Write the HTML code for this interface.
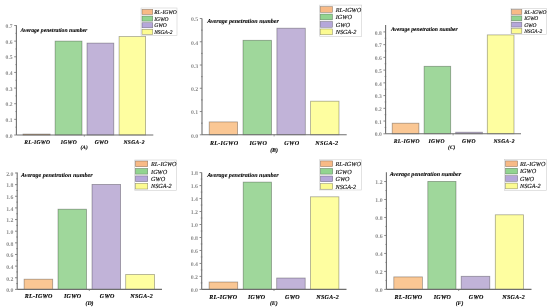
<!DOCTYPE html>
<html><head><meta charset="utf-8"><title>Average penetration number</title>
<style>
html,body{margin:0;padding:0;background:#fff;}
body{width:550px;height:308px;overflow:hidden;}
svg{display:block;font-family:"Liberation Serif", "Times New Roman", serif;text-rendering:geometricPrecision;}
.t{filter:blur(0.15px);}
.g{filter:blur(0.3px);}
</style></head><body>
<svg width="550" height="308" viewBox="0 0 550 308">
<rect width="550" height="308" fill="#fff"/>
<g class="g" id="pA"><rect x="23.00" y="134.10" width="27.10" height="0.90" fill="#fac794" stroke="#000" stroke-opacity="0.45" stroke-width="0.7"/>
<rect x="55.10" y="41.10" width="26.90" height="93.90" fill="#9fd79b" stroke="#000" stroke-opacity="0.34" stroke-width="0.8"/>
<rect x="87.00" y="43.10" width="26.80" height="91.90" fill="#c1b3d8" stroke="#000" stroke-opacity="0.34" stroke-width="0.8"/>
<rect x="119.10" y="36.60" width="26.50" height="98.40" fill="#fefea0" stroke="#000" stroke-opacity="0.34" stroke-width="0.8"/>
<line x1="16.40" y1="25.30" x2="16.40" y2="135.00" stroke="#6e6e6e" stroke-width="1.1"/>
<line x1="16.40" y1="135.00" x2="153.30" y2="135.00" stroke="#6e6e6e" stroke-width="1.1"/>
<line x1="14.20" y1="135.00" x2="16.40" y2="135.00" stroke="#6e6e6e" stroke-width="0.8"/>
<text class="t" x="12.60" y="137.69" text-anchor="end" font-size="5.6" fill="#8a8a8a" font-weight="bold">0.0</text>
<line x1="15.40" y1="127.18" x2="17.00" y2="127.18" stroke="#6e6e6e" stroke-width="0.7"/>
<line x1="14.20" y1="119.36" x2="16.40" y2="119.36" stroke="#6e6e6e" stroke-width="0.8"/>
<text class="t" x="12.60" y="122.05" text-anchor="end" font-size="5.6" fill="#8a8a8a" font-weight="bold">0.1</text>
<line x1="15.40" y1="111.54" x2="17.00" y2="111.54" stroke="#6e6e6e" stroke-width="0.7"/>
<line x1="14.20" y1="103.71" x2="16.40" y2="103.71" stroke="#6e6e6e" stroke-width="0.8"/>
<text class="t" x="12.60" y="106.40" text-anchor="end" font-size="5.6" fill="#8a8a8a" font-weight="bold">0.2</text>
<line x1="15.40" y1="95.89" x2="17.00" y2="95.89" stroke="#6e6e6e" stroke-width="0.7"/>
<line x1="14.20" y1="88.07" x2="16.40" y2="88.07" stroke="#6e6e6e" stroke-width="0.8"/>
<text class="t" x="12.60" y="90.76" text-anchor="end" font-size="5.6" fill="#8a8a8a" font-weight="bold">0.3</text>
<line x1="15.40" y1="80.25" x2="17.00" y2="80.25" stroke="#6e6e6e" stroke-width="0.7"/>
<line x1="14.20" y1="72.43" x2="16.40" y2="72.43" stroke="#6e6e6e" stroke-width="0.8"/>
<text class="t" x="12.60" y="75.12" text-anchor="end" font-size="5.6" fill="#8a8a8a" font-weight="bold">0.4</text>
<line x1="15.40" y1="64.61" x2="17.00" y2="64.61" stroke="#6e6e6e" stroke-width="0.7"/>
<line x1="14.20" y1="56.79" x2="16.40" y2="56.79" stroke="#6e6e6e" stroke-width="0.8"/>
<text class="t" x="12.60" y="59.47" text-anchor="end" font-size="5.6" fill="#8a8a8a" font-weight="bold">0.5</text>
<line x1="15.40" y1="48.96" x2="17.00" y2="48.96" stroke="#6e6e6e" stroke-width="0.7"/>
<line x1="14.20" y1="41.14" x2="16.40" y2="41.14" stroke="#6e6e6e" stroke-width="0.8"/>
<text class="t" x="12.60" y="43.83" text-anchor="end" font-size="5.6" fill="#8a8a8a" font-weight="bold">0.6</text>
<line x1="15.40" y1="33.32" x2="17.00" y2="33.32" stroke="#6e6e6e" stroke-width="0.7"/>
<line x1="14.20" y1="25.50" x2="16.40" y2="25.50" stroke="#6e6e6e" stroke-width="0.8"/>
<text class="t" x="12.60" y="28.19" text-anchor="end" font-size="5.6" fill="#8a8a8a" font-weight="bold">0.7</text>
<line x1="84.30" y1="135.00" x2="84.30" y2="136.60" stroke="#6e6e6e" stroke-width="0.7"/>
<text class="t" x="37.30" y="144.18" text-anchor="middle" letter-spacing="0.3" font-size="5.56" font-weight="bold" font-style="italic" fill="#000" stroke="#000" stroke-width="0.12">RL-IGWO</text>
<text class="t" x="68.90" y="144.18" text-anchor="middle" letter-spacing="0.3" font-size="5.56" font-weight="bold" font-style="italic" fill="#000" stroke="#000" stroke-width="0.12">IGWO</text>
<text class="t" x="101.55" y="144.18" text-anchor="middle" letter-spacing="0.3" font-size="5.56" font-weight="bold" font-style="italic" fill="#000" stroke="#000" stroke-width="0.12">GWO</text>
<text class="t" x="134.10" y="144.18" text-anchor="middle" letter-spacing="0.3" font-size="5.56" font-weight="bold" font-style="italic" fill="#000" stroke="#000" stroke-width="0.12">NSGA-2</text>
<text class="t" x="84.10" y="148.89" text-anchor="middle" font-size="5.4" font-weight="bold" font-style="italic" fill="#000" stroke="#000" stroke-width="0.12">(A)</text>
<text class="t" x="20.60" y="31.58" font-size="5.684" font-weight="bold" font-style="italic" fill="#000" stroke="#000" stroke-width="0.1">Average penetration number</text>
<rect x="141.00" y="8.00" width="36.00" height="27.30" fill="#fff" stroke="#cfcfcf" stroke-width="0.6"/>
<rect x="142.00" y="9.40" width="10.70" height="5.10" fill="#f8ba86" stroke="#000" stroke-opacity="0.4" stroke-width="0.6"/>
<text class="t" x="154.20" y="13.96" font-size="5.5" font-style="italic" fill="#111" stroke="#111" stroke-width="0.14">RL-IGWO</text>
<rect x="142.00" y="16.05" width="10.70" height="5.10" fill="#92d490" stroke="#000" stroke-opacity="0.4" stroke-width="0.6"/>
<text class="t" x="154.20" y="20.62" font-size="5.5" font-style="italic" fill="#111" stroke="#111" stroke-width="0.14">IGWO</text>
<rect x="142.00" y="22.70" width="10.70" height="5.10" fill="#b5a7da" stroke="#000" stroke-opacity="0.4" stroke-width="0.6"/>
<text class="t" x="154.20" y="27.27" font-size="5.5" font-style="italic" fill="#111" stroke="#111" stroke-width="0.14">GWO</text>
<rect x="142.00" y="29.35" width="10.70" height="5.10" fill="#fcfb92" stroke="#000" stroke-opacity="0.4" stroke-width="0.6"/>
<text class="t" x="154.20" y="33.91" font-size="5.5" font-style="italic" fill="#111" stroke="#111" stroke-width="0.14">NSGA-2</text></g>
<g class="g" id="pB"><rect x="209.20" y="121.90" width="28.40" height="12.90" fill="#fac794" stroke="#000" stroke-opacity="0.34" stroke-width="0.8"/>
<rect x="243.00" y="40.30" width="28.50" height="94.50" fill="#9fd79b" stroke="#000" stroke-opacity="0.34" stroke-width="0.8"/>
<rect x="276.90" y="28.20" width="28.40" height="106.60" fill="#c1b3d8" stroke="#000" stroke-opacity="0.34" stroke-width="0.8"/>
<rect x="310.60" y="101.20" width="28.40" height="33.60" fill="#fefea0" stroke="#000" stroke-opacity="0.34" stroke-width="0.8"/>
<line x1="202.00" y1="18.50" x2="202.00" y2="134.80" stroke="#6e6e6e" stroke-width="1.1"/>
<line x1="202.00" y1="134.80" x2="346.70" y2="134.80" stroke="#6e6e6e" stroke-width="1.1"/>
<line x1="199.80" y1="134.80" x2="202.00" y2="134.80" stroke="#6e6e6e" stroke-width="0.8"/>
<text class="t" x="198.20" y="137.58" text-anchor="end" font-size="5.8" fill="#8a8a8a" font-weight="bold">0.0</text>
<line x1="201.00" y1="123.17" x2="202.60" y2="123.17" stroke="#6e6e6e" stroke-width="0.7"/>
<line x1="199.80" y1="111.54" x2="202.00" y2="111.54" stroke="#6e6e6e" stroke-width="0.8"/>
<text class="t" x="198.20" y="114.32" text-anchor="end" font-size="5.8" fill="#8a8a8a" font-weight="bold">0.1</text>
<line x1="201.00" y1="99.91" x2="202.60" y2="99.91" stroke="#6e6e6e" stroke-width="0.7"/>
<line x1="199.80" y1="88.28" x2="202.00" y2="88.28" stroke="#6e6e6e" stroke-width="0.8"/>
<text class="t" x="198.20" y="91.06" text-anchor="end" font-size="5.8" fill="#8a8a8a" font-weight="bold">0.2</text>
<line x1="201.00" y1="76.65" x2="202.60" y2="76.65" stroke="#6e6e6e" stroke-width="0.7"/>
<line x1="199.80" y1="65.02" x2="202.00" y2="65.02" stroke="#6e6e6e" stroke-width="0.8"/>
<text class="t" x="198.20" y="67.80" text-anchor="end" font-size="5.8" fill="#8a8a8a" font-weight="bold">0.3</text>
<line x1="201.00" y1="53.39" x2="202.60" y2="53.39" stroke="#6e6e6e" stroke-width="0.7"/>
<line x1="199.80" y1="41.76" x2="202.00" y2="41.76" stroke="#6e6e6e" stroke-width="0.8"/>
<text class="t" x="198.20" y="44.54" text-anchor="end" font-size="5.8" fill="#8a8a8a" font-weight="bold">0.4</text>
<line x1="201.00" y1="30.13" x2="202.60" y2="30.13" stroke="#6e6e6e" stroke-width="0.7"/>
<line x1="199.80" y1="18.50" x2="202.00" y2="18.50" stroke="#6e6e6e" stroke-width="0.8"/>
<text class="t" x="198.20" y="21.28" text-anchor="end" font-size="5.8" fill="#8a8a8a" font-weight="bold">0.5</text>
<line x1="274.10" y1="134.80" x2="274.10" y2="136.40" stroke="#6e6e6e" stroke-width="0.7"/>
<text class="t" x="224.15" y="144.85" text-anchor="middle" letter-spacing="0.3" font-size="6.08" font-weight="bold" font-style="italic" fill="#000" stroke="#000" stroke-width="0.12">RL-IGWO</text>
<text class="t" x="258.30" y="144.85" text-anchor="middle" letter-spacing="0.3" font-size="6.08" font-weight="bold" font-style="italic" fill="#000" stroke="#000" stroke-width="0.12">IGWO</text>
<text class="t" x="291.85" y="144.85" text-anchor="middle" letter-spacing="0.3" font-size="6.08" font-weight="bold" font-style="italic" fill="#000" stroke="#000" stroke-width="0.12">GWO</text>
<text class="t" x="326.90" y="144.85" text-anchor="middle" letter-spacing="0.3" font-size="6.08" font-weight="bold" font-style="italic" fill="#000" stroke="#000" stroke-width="0.12">NSGA-2</text>
<text class="t" x="274.10" y="152.06" text-anchor="middle" font-size="5.9" font-weight="bold" font-style="italic" fill="#000" stroke="#000" stroke-width="0.12">(B)</text>
<text class="t" x="207.30" y="23.20" font-size="6.090" font-weight="bold" font-style="italic" fill="#000" stroke="#000" stroke-width="0.1">Average penetration number</text>
<rect x="319.70" y="5.10" width="42.00" height="31.20" fill="#fff" stroke="#cfcfcf" stroke-width="0.6"/>
<rect x="320.20" y="6.60" width="12.30" height="5.80" fill="#f8ba86" stroke="#000" stroke-opacity="0.4" stroke-width="0.6"/>
<text class="t" x="335.80" y="11.75" font-size="6.2" font-style="italic" fill="#111" stroke="#111" stroke-width="0.14">RL-IGWO</text>
<rect x="320.20" y="14.05" width="12.30" height="5.80" fill="#92d490" stroke="#000" stroke-opacity="0.4" stroke-width="0.6"/>
<text class="t" x="335.80" y="19.20" font-size="6.2" font-style="italic" fill="#111" stroke="#111" stroke-width="0.14">IGWO</text>
<rect x="320.20" y="21.50" width="12.30" height="5.80" fill="#b5a7da" stroke="#000" stroke-opacity="0.4" stroke-width="0.6"/>
<text class="t" x="335.80" y="26.65" font-size="6.2" font-style="italic" fill="#111" stroke="#111" stroke-width="0.14">GWO</text>
<rect x="320.20" y="28.95" width="12.30" height="5.80" fill="#fcfb92" stroke="#000" stroke-opacity="0.4" stroke-width="0.6"/>
<text class="t" x="335.80" y="34.10" font-size="6.2" font-style="italic" fill="#111" stroke="#111" stroke-width="0.14">NSGA-2</text></g>
<g class="g" id="pC"><rect x="392.20" y="123.20" width="26.70" height="10.60" fill="#fac794" stroke="#000" stroke-opacity="0.34" stroke-width="0.8"/>
<rect x="424.10" y="66.30" width="26.60" height="67.50" fill="#9fd79b" stroke="#000" stroke-opacity="0.34" stroke-width="0.8"/>
<rect x="455.70" y="132.20" width="26.70" height="1.60" fill="#c1b3d8" stroke="#000" stroke-opacity="0.34" stroke-width="0.8"/>
<rect x="487.30" y="34.90" width="26.70" height="98.90" fill="#fefea0" stroke="#000" stroke-opacity="0.34" stroke-width="0.8"/>
<line x1="385.60" y1="25.00" x2="385.60" y2="133.80" stroke="#6e6e6e" stroke-width="1.1"/>
<line x1="385.60" y1="133.80" x2="521.00" y2="133.80" stroke="#6e6e6e" stroke-width="1.1"/>
<line x1="383.40" y1="133.80" x2="385.60" y2="133.80" stroke="#6e6e6e" stroke-width="0.8"/>
<text class="t" x="381.80" y="136.49" text-anchor="end" font-size="5.6" fill="#8a8a8a" font-weight="bold">0.0</text>
<line x1="384.60" y1="127.43" x2="386.20" y2="127.43" stroke="#6e6e6e" stroke-width="0.7"/>
<line x1="383.40" y1="121.06" x2="385.60" y2="121.06" stroke="#6e6e6e" stroke-width="0.8"/>
<text class="t" x="381.80" y="123.75" text-anchor="end" font-size="5.6" fill="#8a8a8a" font-weight="bold">0.1</text>
<line x1="384.60" y1="114.69" x2="386.20" y2="114.69" stroke="#6e6e6e" stroke-width="0.7"/>
<line x1="383.40" y1="108.33" x2="385.60" y2="108.33" stroke="#6e6e6e" stroke-width="0.8"/>
<text class="t" x="381.80" y="111.01" text-anchor="end" font-size="5.6" fill="#8a8a8a" font-weight="bold">0.2</text>
<line x1="384.60" y1="101.96" x2="386.20" y2="101.96" stroke="#6e6e6e" stroke-width="0.7"/>
<line x1="383.40" y1="95.59" x2="385.60" y2="95.59" stroke="#6e6e6e" stroke-width="0.8"/>
<text class="t" x="381.80" y="98.28" text-anchor="end" font-size="5.6" fill="#8a8a8a" font-weight="bold">0.3</text>
<line x1="384.60" y1="89.22" x2="386.20" y2="89.22" stroke="#6e6e6e" stroke-width="0.7"/>
<line x1="383.40" y1="82.85" x2="385.60" y2="82.85" stroke="#6e6e6e" stroke-width="0.8"/>
<text class="t" x="381.80" y="85.54" text-anchor="end" font-size="5.6" fill="#8a8a8a" font-weight="bold">0.4</text>
<line x1="384.60" y1="76.48" x2="386.20" y2="76.48" stroke="#6e6e6e" stroke-width="0.7"/>
<line x1="383.40" y1="70.11" x2="385.60" y2="70.11" stroke="#6e6e6e" stroke-width="0.8"/>
<text class="t" x="381.80" y="72.80" text-anchor="end" font-size="5.6" fill="#8a8a8a" font-weight="bold">0.5</text>
<line x1="384.60" y1="63.74" x2="386.20" y2="63.74" stroke="#6e6e6e" stroke-width="0.7"/>
<line x1="383.40" y1="57.38" x2="385.60" y2="57.38" stroke="#6e6e6e" stroke-width="0.8"/>
<text class="t" x="381.80" y="60.06" text-anchor="end" font-size="5.6" fill="#8a8a8a" font-weight="bold">0.6</text>
<line x1="384.60" y1="51.01" x2="386.20" y2="51.01" stroke="#6e6e6e" stroke-width="0.7"/>
<line x1="383.40" y1="44.64" x2="385.60" y2="44.64" stroke="#6e6e6e" stroke-width="0.8"/>
<text class="t" x="381.80" y="47.33" text-anchor="end" font-size="5.6" fill="#8a8a8a" font-weight="bold">0.7</text>
<line x1="384.60" y1="38.27" x2="386.20" y2="38.27" stroke="#6e6e6e" stroke-width="0.7"/>
<line x1="383.40" y1="31.90" x2="385.60" y2="31.90" stroke="#6e6e6e" stroke-width="0.8"/>
<text class="t" x="381.80" y="34.59" text-anchor="end" font-size="5.6" fill="#8a8a8a" font-weight="bold">0.8</text>
<line x1="453.10" y1="133.80" x2="453.10" y2="135.40" stroke="#6e6e6e" stroke-width="0.7"/>
<text class="t" x="406.80" y="143.28" text-anchor="middle" letter-spacing="0.3" font-size="5.56" font-weight="bold" font-style="italic" fill="#000" stroke="#000" stroke-width="0.12">RL-IGWO</text>
<text class="t" x="436.70" y="143.28" text-anchor="middle" letter-spacing="0.3" font-size="5.56" font-weight="bold" font-style="italic" fill="#000" stroke="#000" stroke-width="0.12">IGWO</text>
<text class="t" x="468.80" y="143.28" text-anchor="middle" letter-spacing="0.3" font-size="5.56" font-weight="bold" font-style="italic" fill="#000" stroke="#000" stroke-width="0.12">GWO</text>
<text class="t" x="504.10" y="143.28" text-anchor="middle" letter-spacing="0.3" font-size="5.56" font-weight="bold" font-style="italic" fill="#000" stroke="#000" stroke-width="0.12">NSGA-2</text>
<text class="t" x="451.70" y="148.89" text-anchor="middle" font-size="5.4" font-weight="bold" font-style="italic" fill="#000" stroke="#000" stroke-width="0.12">(C)</text>
<text class="t" x="391.00" y="30.58" font-size="5.684" font-weight="bold" font-style="italic" fill="#000" stroke="#000" stroke-width="0.1">Average penetration number</text>
<rect x="511.00" y="8.40" width="35.40" height="26.10" fill="#fff" stroke="#cfcfcf" stroke-width="0.6"/>
<rect x="511.60" y="9.60" width="10.20" height="4.90" fill="#f8ba86" stroke="#000" stroke-opacity="0.4" stroke-width="0.6"/>
<text class="t" x="524.20" y="14.03" font-size="5.4" font-style="italic" fill="#111" stroke="#111" stroke-width="0.14">RL-IGWO</text>
<rect x="511.60" y="15.90" width="10.20" height="4.90" fill="#92d490" stroke="#000" stroke-opacity="0.4" stroke-width="0.6"/>
<text class="t" x="524.20" y="20.33" font-size="5.4" font-style="italic" fill="#111" stroke="#111" stroke-width="0.14">IGWO</text>
<rect x="511.60" y="22.20" width="10.20" height="4.90" fill="#b5a7da" stroke="#000" stroke-opacity="0.4" stroke-width="0.6"/>
<text class="t" x="524.20" y="26.63" font-size="5.4" font-style="italic" fill="#111" stroke="#111" stroke-width="0.14">GWO</text>
<rect x="511.60" y="28.50" width="10.20" height="4.90" fill="#fcfb92" stroke="#000" stroke-opacity="0.4" stroke-width="0.6"/>
<text class="t" x="524.20" y="32.93" font-size="5.4" font-style="italic" fill="#111" stroke="#111" stroke-width="0.14">NSGA-2</text></g>
<g class="g" id="pD"><rect x="24.10" y="279.20" width="28.60" height="10.20" fill="#fac794" stroke="#000" stroke-opacity="0.34" stroke-width="0.8"/>
<rect x="58.00" y="209.20" width="28.50" height="80.20" fill="#9fd79b" stroke="#000" stroke-opacity="0.34" stroke-width="0.8"/>
<rect x="92.00" y="184.40" width="28.60" height="105.00" fill="#c1b3d8" stroke="#000" stroke-opacity="0.34" stroke-width="0.8"/>
<rect x="125.70" y="274.50" width="28.80" height="14.90" fill="#fefea0" stroke="#000" stroke-opacity="0.34" stroke-width="0.8"/>
<line x1="17.20" y1="172.50" x2="17.20" y2="289.40" stroke="#6e6e6e" stroke-width="1.1"/>
<line x1="17.20" y1="289.40" x2="162.00" y2="289.40" stroke="#6e6e6e" stroke-width="1.1"/>
<line x1="15.00" y1="289.40" x2="17.20" y2="289.40" stroke="#6e6e6e" stroke-width="0.8"/>
<text class="t" x="13.40" y="292.18" text-anchor="end" font-size="5.8" fill="#8a8a8a" font-weight="bold">0.0</text>
<line x1="16.20" y1="283.58" x2="17.80" y2="283.58" stroke="#6e6e6e" stroke-width="0.7"/>
<line x1="15.00" y1="277.76" x2="17.20" y2="277.76" stroke="#6e6e6e" stroke-width="0.8"/>
<text class="t" x="13.40" y="280.54" text-anchor="end" font-size="5.8" fill="#8a8a8a" font-weight="bold">0.2</text>
<line x1="16.20" y1="271.94" x2="17.80" y2="271.94" stroke="#6e6e6e" stroke-width="0.7"/>
<line x1="15.00" y1="266.12" x2="17.20" y2="266.12" stroke="#6e6e6e" stroke-width="0.8"/>
<text class="t" x="13.40" y="268.90" text-anchor="end" font-size="5.8" fill="#8a8a8a" font-weight="bold">0.4</text>
<line x1="16.20" y1="260.30" x2="17.80" y2="260.30" stroke="#6e6e6e" stroke-width="0.7"/>
<line x1="15.00" y1="254.48" x2="17.20" y2="254.48" stroke="#6e6e6e" stroke-width="0.8"/>
<text class="t" x="13.40" y="257.26" text-anchor="end" font-size="5.8" fill="#8a8a8a" font-weight="bold">0.6</text>
<line x1="16.20" y1="248.66" x2="17.80" y2="248.66" stroke="#6e6e6e" stroke-width="0.7"/>
<line x1="15.00" y1="242.84" x2="17.20" y2="242.84" stroke="#6e6e6e" stroke-width="0.8"/>
<text class="t" x="13.40" y="245.62" text-anchor="end" font-size="5.8" fill="#8a8a8a" font-weight="bold">0.8</text>
<line x1="16.20" y1="237.02" x2="17.80" y2="237.02" stroke="#6e6e6e" stroke-width="0.7"/>
<line x1="15.00" y1="231.20" x2="17.20" y2="231.20" stroke="#6e6e6e" stroke-width="0.8"/>
<text class="t" x="13.40" y="233.98" text-anchor="end" font-size="5.8" fill="#8a8a8a" font-weight="bold">1.0</text>
<line x1="16.20" y1="225.38" x2="17.80" y2="225.38" stroke="#6e6e6e" stroke-width="0.7"/>
<line x1="15.00" y1="219.56" x2="17.20" y2="219.56" stroke="#6e6e6e" stroke-width="0.8"/>
<text class="t" x="13.40" y="222.34" text-anchor="end" font-size="5.8" fill="#8a8a8a" font-weight="bold">1.2</text>
<line x1="16.20" y1="213.74" x2="17.80" y2="213.74" stroke="#6e6e6e" stroke-width="0.7"/>
<line x1="15.00" y1="207.92" x2="17.20" y2="207.92" stroke="#6e6e6e" stroke-width="0.8"/>
<text class="t" x="13.40" y="210.70" text-anchor="end" font-size="5.8" fill="#8a8a8a" font-weight="bold">1.4</text>
<line x1="16.20" y1="202.10" x2="17.80" y2="202.10" stroke="#6e6e6e" stroke-width="0.7"/>
<line x1="15.00" y1="196.28" x2="17.20" y2="196.28" stroke="#6e6e6e" stroke-width="0.8"/>
<text class="t" x="13.40" y="199.06" text-anchor="end" font-size="5.8" fill="#8a8a8a" font-weight="bold">1.6</text>
<line x1="16.20" y1="190.46" x2="17.80" y2="190.46" stroke="#6e6e6e" stroke-width="0.7"/>
<line x1="15.00" y1="184.64" x2="17.20" y2="184.64" stroke="#6e6e6e" stroke-width="0.8"/>
<text class="t" x="13.40" y="187.42" text-anchor="end" font-size="5.8" fill="#8a8a8a" font-weight="bold">1.8</text>
<line x1="16.20" y1="178.82" x2="17.80" y2="178.82" stroke="#6e6e6e" stroke-width="0.7"/>
<line x1="15.00" y1="173.00" x2="17.20" y2="173.00" stroke="#6e6e6e" stroke-width="0.8"/>
<text class="t" x="13.40" y="175.78" text-anchor="end" font-size="5.8" fill="#8a8a8a" font-weight="bold">2.0</text>
<line x1="89.30" y1="289.40" x2="89.30" y2="291.00" stroke="#6e6e6e" stroke-width="0.7"/>
<text class="t" x="38.75" y="297.51" text-anchor="middle" letter-spacing="0.3" font-size="5.97" font-weight="bold" font-style="italic" fill="#000" stroke="#000" stroke-width="0.12">RL-IGWO</text>
<text class="t" x="72.70" y="297.51" text-anchor="middle" letter-spacing="0.3" font-size="5.97" font-weight="bold" font-style="italic" fill="#000" stroke="#000" stroke-width="0.12">IGWO</text>
<text class="t" x="107.25" y="297.51" text-anchor="middle" letter-spacing="0.3" font-size="5.97" font-weight="bold" font-style="italic" fill="#000" stroke="#000" stroke-width="0.12">GWO</text>
<text class="t" x="141.65" y="297.51" text-anchor="middle" letter-spacing="0.3" font-size="5.97" font-weight="bold" font-style="italic" fill="#000" stroke="#000" stroke-width="0.12">NSGA-2</text>
<text class="t" x="89.50" y="304.73" text-anchor="middle" font-size="5.8" font-weight="bold" font-style="italic" fill="#000" stroke="#000" stroke-width="0.12">(D)</text>
<text class="t" x="21.10" y="177.10" font-size="6.090" font-weight="bold" font-style="italic" fill="#000" stroke="#000" stroke-width="0.1">Average penetration number</text>
<rect x="134.70" y="160.00" width="41.80" height="30.30" fill="#fff" stroke="#cfcfcf" stroke-width="0.6"/>
<rect x="135.40" y="161.00" width="12.30" height="5.70" fill="#f8ba86" stroke="#000" stroke-opacity="0.4" stroke-width="0.6"/>
<text class="t" x="151.10" y="166.10" font-size="6.2" font-style="italic" fill="#111" stroke="#111" stroke-width="0.14">RL-IGWO</text>
<rect x="135.40" y="168.45" width="12.30" height="5.70" fill="#92d490" stroke="#000" stroke-opacity="0.4" stroke-width="0.6"/>
<text class="t" x="151.10" y="173.55" font-size="6.2" font-style="italic" fill="#111" stroke="#111" stroke-width="0.14">IGWO</text>
<rect x="135.40" y="175.90" width="12.30" height="5.70" fill="#b5a7da" stroke="#000" stroke-opacity="0.4" stroke-width="0.6"/>
<text class="t" x="151.10" y="181.00" font-size="6.2" font-style="italic" fill="#111" stroke="#111" stroke-width="0.14">GWO</text>
<rect x="135.40" y="183.35" width="12.30" height="5.70" fill="#fcfb92" stroke="#000" stroke-opacity="0.4" stroke-width="0.6"/>
<text class="t" x="151.10" y="188.45" font-size="6.2" font-style="italic" fill="#111" stroke="#111" stroke-width="0.14">NSGA-2</text></g>
<g class="g" id="pE"><rect x="209.10" y="282.00" width="28.60" height="7.40" fill="#fac794" stroke="#000" stroke-opacity="0.34" stroke-width="0.8"/>
<rect x="243.20" y="182.10" width="28.30" height="107.30" fill="#9fd79b" stroke="#000" stroke-opacity="0.34" stroke-width="0.8"/>
<rect x="276.70" y="278.00" width="28.50" height="11.40" fill="#c1b3d8" stroke="#000" stroke-opacity="0.34" stroke-width="0.8"/>
<rect x="310.50" y="196.80" width="28.40" height="92.60" fill="#fefea0" stroke="#000" stroke-opacity="0.34" stroke-width="0.8"/>
<line x1="201.70" y1="172.60" x2="201.70" y2="289.40" stroke="#6e6e6e" stroke-width="1.1"/>
<line x1="201.70" y1="289.40" x2="346.50" y2="289.40" stroke="#6e6e6e" stroke-width="1.1"/>
<line x1="199.50" y1="289.40" x2="201.70" y2="289.40" stroke="#6e6e6e" stroke-width="0.8"/>
<text class="t" x="197.90" y="292.18" text-anchor="end" font-size="5.8" fill="#8a8a8a" font-weight="bold">0.0</text>
<line x1="200.70" y1="282.91" x2="202.30" y2="282.91" stroke="#6e6e6e" stroke-width="0.7"/>
<line x1="199.50" y1="276.42" x2="201.70" y2="276.42" stroke="#6e6e6e" stroke-width="0.8"/>
<text class="t" x="197.90" y="279.21" text-anchor="end" font-size="5.8" fill="#8a8a8a" font-weight="bold">0.2</text>
<line x1="200.70" y1="269.93" x2="202.30" y2="269.93" stroke="#6e6e6e" stroke-width="0.7"/>
<line x1="199.50" y1="263.44" x2="201.70" y2="263.44" stroke="#6e6e6e" stroke-width="0.8"/>
<text class="t" x="197.90" y="266.23" text-anchor="end" font-size="5.8" fill="#8a8a8a" font-weight="bold">0.4</text>
<line x1="200.70" y1="256.96" x2="202.30" y2="256.96" stroke="#6e6e6e" stroke-width="0.7"/>
<line x1="199.50" y1="250.47" x2="201.70" y2="250.47" stroke="#6e6e6e" stroke-width="0.8"/>
<text class="t" x="197.90" y="253.25" text-anchor="end" font-size="5.8" fill="#8a8a8a" font-weight="bold">0.6</text>
<line x1="200.70" y1="243.98" x2="202.30" y2="243.98" stroke="#6e6e6e" stroke-width="0.7"/>
<line x1="199.50" y1="237.49" x2="201.70" y2="237.49" stroke="#6e6e6e" stroke-width="0.8"/>
<text class="t" x="197.90" y="240.27" text-anchor="end" font-size="5.8" fill="#8a8a8a" font-weight="bold">0.8</text>
<line x1="200.70" y1="231.00" x2="202.30" y2="231.00" stroke="#6e6e6e" stroke-width="0.7"/>
<line x1="199.50" y1="224.51" x2="201.70" y2="224.51" stroke="#6e6e6e" stroke-width="0.8"/>
<text class="t" x="197.90" y="227.30" text-anchor="end" font-size="5.8" fill="#8a8a8a" font-weight="bold">1.0</text>
<line x1="200.70" y1="218.02" x2="202.30" y2="218.02" stroke="#6e6e6e" stroke-width="0.7"/>
<line x1="199.50" y1="211.53" x2="201.70" y2="211.53" stroke="#6e6e6e" stroke-width="0.8"/>
<text class="t" x="197.90" y="214.32" text-anchor="end" font-size="5.8" fill="#8a8a8a" font-weight="bold">1.2</text>
<line x1="200.70" y1="205.04" x2="202.30" y2="205.04" stroke="#6e6e6e" stroke-width="0.7"/>
<line x1="199.50" y1="198.56" x2="201.70" y2="198.56" stroke="#6e6e6e" stroke-width="0.8"/>
<text class="t" x="197.90" y="201.34" text-anchor="end" font-size="5.8" fill="#8a8a8a" font-weight="bold">1.4</text>
<line x1="200.70" y1="192.07" x2="202.30" y2="192.07" stroke="#6e6e6e" stroke-width="0.7"/>
<line x1="199.50" y1="185.58" x2="201.70" y2="185.58" stroke="#6e6e6e" stroke-width="0.8"/>
<text class="t" x="197.90" y="188.36" text-anchor="end" font-size="5.8" fill="#8a8a8a" font-weight="bold">1.6</text>
<line x1="200.70" y1="179.09" x2="202.30" y2="179.09" stroke="#6e6e6e" stroke-width="0.7"/>
<line x1="199.50" y1="172.60" x2="201.70" y2="172.60" stroke="#6e6e6e" stroke-width="0.8"/>
<text class="t" x="197.90" y="175.38" text-anchor="end" font-size="5.8" fill="#8a8a8a" font-weight="bold">1.8</text>
<line x1="274.00" y1="289.40" x2="274.00" y2="291.00" stroke="#6e6e6e" stroke-width="0.7"/>
<text class="t" x="223.30" y="298.91" text-anchor="middle" letter-spacing="0.3" font-size="5.97" font-weight="bold" font-style="italic" fill="#000" stroke="#000" stroke-width="0.12">RL-IGWO</text>
<text class="t" x="256.65" y="298.91" text-anchor="middle" letter-spacing="0.3" font-size="5.97" font-weight="bold" font-style="italic" fill="#000" stroke="#000" stroke-width="0.12">IGWO</text>
<text class="t" x="292.50" y="298.91" text-anchor="middle" letter-spacing="0.3" font-size="5.97" font-weight="bold" font-style="italic" fill="#000" stroke="#000" stroke-width="0.12">GWO</text>
<text class="t" x="327.65" y="298.91" text-anchor="middle" letter-spacing="0.3" font-size="5.97" font-weight="bold" font-style="italic" fill="#000" stroke="#000" stroke-width="0.12">NSGA-2</text>
<text class="t" x="273.80" y="304.53" text-anchor="middle" font-size="5.8" font-weight="bold" font-style="italic" fill="#000" stroke="#000" stroke-width="0.12">(E)</text>
<text class="t" x="207.20" y="176.50" font-size="6.090" font-weight="bold" font-style="italic" fill="#000" stroke="#000" stroke-width="0.1">Average penetration number</text>
<rect x="319.60" y="159.80" width="41.90" height="30.20" fill="#fff" stroke="#cfcfcf" stroke-width="0.6"/>
<rect x="320.40" y="160.90" width="12.30" height="5.70" fill="#f8ba86" stroke="#000" stroke-opacity="0.4" stroke-width="0.6"/>
<text class="t" x="335.50" y="166.00" font-size="6.2" font-style="italic" fill="#111" stroke="#111" stroke-width="0.14">RL-IGWO</text>
<rect x="320.40" y="168.45" width="12.30" height="5.70" fill="#92d490" stroke="#000" stroke-opacity="0.4" stroke-width="0.6"/>
<text class="t" x="335.50" y="173.55" font-size="6.2" font-style="italic" fill="#111" stroke="#111" stroke-width="0.14">IGWO</text>
<rect x="320.40" y="176.00" width="12.30" height="5.70" fill="#b5a7da" stroke="#000" stroke-opacity="0.4" stroke-width="0.6"/>
<text class="t" x="335.50" y="181.10" font-size="6.2" font-style="italic" fill="#111" stroke="#111" stroke-width="0.14">GWO</text>
<rect x="320.40" y="183.55" width="12.30" height="5.70" fill="#fcfb92" stroke="#000" stroke-opacity="0.4" stroke-width="0.6"/>
<text class="t" x="335.50" y="188.65" font-size="6.2" font-style="italic" fill="#111" stroke="#111" stroke-width="0.14">NSGA-2</text></g>
<g class="g" id="pF"><rect x="393.80" y="276.90" width="28.60" height="12.50" fill="#fac794" stroke="#000" stroke-opacity="0.34" stroke-width="0.8"/>
<rect x="427.80" y="181.40" width="28.20" height="108.00" fill="#9fd79b" stroke="#000" stroke-opacity="0.34" stroke-width="0.8"/>
<rect x="461.20" y="276.30" width="28.60" height="13.10" fill="#c1b3d8" stroke="#000" stroke-opacity="0.34" stroke-width="0.8"/>
<rect x="495.30" y="214.80" width="28.20" height="74.60" fill="#fefea0" stroke="#000" stroke-opacity="0.34" stroke-width="0.8"/>
<line x1="386.40" y1="172.30" x2="386.40" y2="289.40" stroke="#6e6e6e" stroke-width="1.1"/>
<line x1="386.40" y1="289.40" x2="531.50" y2="289.40" stroke="#6e6e6e" stroke-width="1.1"/>
<line x1="384.20" y1="289.40" x2="386.40" y2="289.40" stroke="#6e6e6e" stroke-width="0.8"/>
<text class="t" x="382.60" y="292.18" text-anchor="end" font-size="5.8" fill="#8a8a8a" font-weight="bold">0.0</text>
<line x1="385.40" y1="280.41" x2="387.00" y2="280.41" stroke="#6e6e6e" stroke-width="0.7"/>
<line x1="384.20" y1="271.42" x2="386.40" y2="271.42" stroke="#6e6e6e" stroke-width="0.8"/>
<text class="t" x="382.60" y="274.20" text-anchor="end" font-size="5.8" fill="#8a8a8a" font-weight="bold">0.2</text>
<line x1="385.40" y1="262.43" x2="387.00" y2="262.43" stroke="#6e6e6e" stroke-width="0.7"/>
<line x1="384.20" y1="253.44" x2="386.40" y2="253.44" stroke="#6e6e6e" stroke-width="0.8"/>
<text class="t" x="382.60" y="256.22" text-anchor="end" font-size="5.8" fill="#8a8a8a" font-weight="bold">0.4</text>
<line x1="385.40" y1="244.45" x2="387.00" y2="244.45" stroke="#6e6e6e" stroke-width="0.7"/>
<line x1="384.20" y1="235.46" x2="386.40" y2="235.46" stroke="#6e6e6e" stroke-width="0.8"/>
<text class="t" x="382.60" y="238.24" text-anchor="end" font-size="5.8" fill="#8a8a8a" font-weight="bold">0.6</text>
<line x1="385.40" y1="226.47" x2="387.00" y2="226.47" stroke="#6e6e6e" stroke-width="0.7"/>
<line x1="384.20" y1="217.48" x2="386.40" y2="217.48" stroke="#6e6e6e" stroke-width="0.8"/>
<text class="t" x="382.60" y="220.26" text-anchor="end" font-size="5.8" fill="#8a8a8a" font-weight="bold">0.8</text>
<line x1="385.40" y1="208.49" x2="387.00" y2="208.49" stroke="#6e6e6e" stroke-width="0.7"/>
<line x1="384.20" y1="199.50" x2="386.40" y2="199.50" stroke="#6e6e6e" stroke-width="0.8"/>
<text class="t" x="382.60" y="202.28" text-anchor="end" font-size="5.8" fill="#8a8a8a" font-weight="bold">1.0</text>
<line x1="385.40" y1="190.51" x2="387.00" y2="190.51" stroke="#6e6e6e" stroke-width="0.7"/>
<line x1="384.20" y1="181.52" x2="386.40" y2="181.52" stroke="#6e6e6e" stroke-width="0.8"/>
<text class="t" x="382.60" y="184.30" text-anchor="end" font-size="5.8" fill="#8a8a8a" font-weight="bold">1.2</text>
<line x1="458.65" y1="289.40" x2="458.65" y2="291.00" stroke="#6e6e6e" stroke-width="0.7"/>
<text class="t" x="408.45" y="298.71" text-anchor="middle" letter-spacing="0.3" font-size="5.97" font-weight="bold" font-style="italic" fill="#000" stroke="#000" stroke-width="0.12">RL-IGWO</text>
<text class="t" x="442.40" y="298.71" text-anchor="middle" letter-spacing="0.3" font-size="5.97" font-weight="bold" font-style="italic" fill="#000" stroke="#000" stroke-width="0.12">IGWO</text>
<text class="t" x="476.25" y="298.71" text-anchor="middle" letter-spacing="0.3" font-size="5.97" font-weight="bold" font-style="italic" fill="#000" stroke="#000" stroke-width="0.12">GWO</text>
<text class="t" x="513.70" y="298.71" text-anchor="middle" letter-spacing="0.3" font-size="5.97" font-weight="bold" font-style="italic" fill="#000" stroke="#000" stroke-width="0.12">NSGA-2</text>
<text class="t" x="459.50" y="305.33" text-anchor="middle" font-size="5.8" font-weight="bold" font-style="italic" fill="#000" stroke="#000" stroke-width="0.12">(F)</text>
<text class="t" x="389.70" y="176.30" font-size="6.090" font-weight="bold" font-style="italic" fill="#000" stroke="#000" stroke-width="0.1">Average penetration number</text>
<rect x="504.50" y="159.50" width="41.90" height="30.90" fill="#fff" stroke="#cfcfcf" stroke-width="0.6"/>
<rect x="505.50" y="160.90" width="12.10" height="5.70" fill="#f8ba86" stroke="#000" stroke-opacity="0.4" stroke-width="0.6"/>
<text class="t" x="520.00" y="166.00" font-size="6.2" font-style="italic" fill="#111" stroke="#111" stroke-width="0.14">RL-IGWO</text>
<rect x="505.50" y="168.30" width="12.10" height="5.70" fill="#92d490" stroke="#000" stroke-opacity="0.4" stroke-width="0.6"/>
<text class="t" x="520.00" y="173.40" font-size="6.2" font-style="italic" fill="#111" stroke="#111" stroke-width="0.14">IGWO</text>
<rect x="505.50" y="175.70" width="12.10" height="5.70" fill="#b5a7da" stroke="#000" stroke-opacity="0.4" stroke-width="0.6"/>
<text class="t" x="520.00" y="180.80" font-size="6.2" font-style="italic" fill="#111" stroke="#111" stroke-width="0.14">GWO</text>
<rect x="505.50" y="183.10" width="12.10" height="5.70" fill="#fcfb92" stroke="#000" stroke-opacity="0.4" stroke-width="0.6"/>
<text class="t" x="520.00" y="188.20" font-size="6.2" font-style="italic" fill="#111" stroke="#111" stroke-width="0.14">NSGA-2</text></g>
</svg>
</body></html>
